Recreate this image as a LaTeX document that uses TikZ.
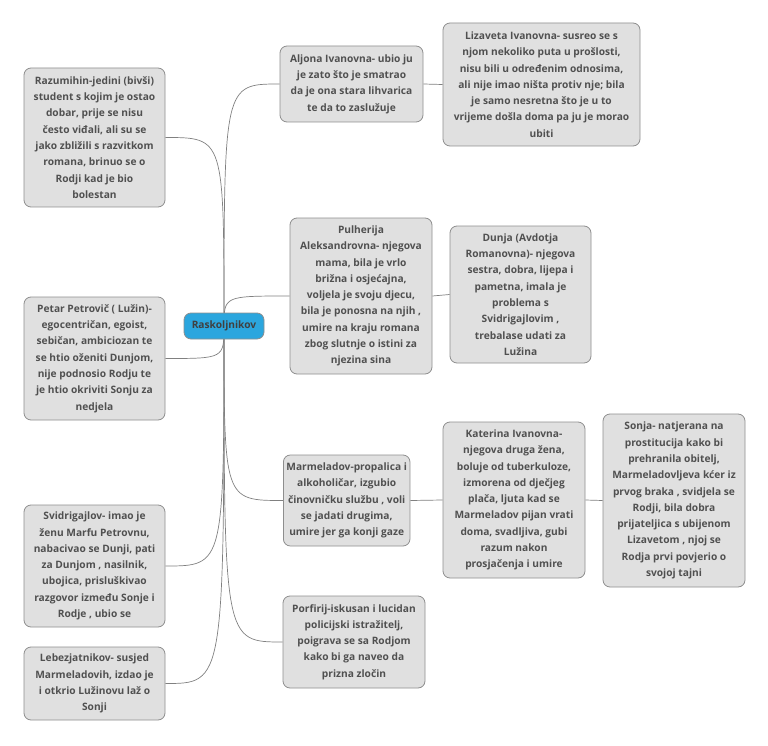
\documentclass[tikz,border=0pt]{standalone}
\usepackage{fontspec}
\setsansfont{Open Sans}
\usetikzlibrary{backgrounds}
\definecolor{cfill}{HTML}{E0E0E0}
\definecolor{cedge}{HTML}{8E8E8E}
\definecolor{ctext}{HTML}{505050}
\definecolor{cblue}{HTML}{2BA6DE}
\definecolor{cline}{HTML}{808080}
\tikzset{
  every picture/.style={font=\sffamily\bfseries},
  topic/.style={draw=cedge, fill=cfill, text=ctext, rounded corners=7pt, align=center,
    inner sep=3pt, line width=0.8pt, font=\sffamily\bfseries\fontsize{10.2}{16.3}\selectfont},
  root/.style={draw=cedge, fill=cblue, text=ctext!80!black, rounded corners=7pt,
    inner sep=3pt, line width=0.8pt, font=\sffamily\bfseries\fontsize{10.2}{13}\selectfont},
  link/.style={draw=cline, line width=0.7pt},
}

\begin{document}
\begin{tikzpicture}[x=1pt, y=-1pt]
  \useasboundingbox (0,0) rectangle (768,746);
  % central topic
  \node[root, minimum width=80pt, minimum height=26pt] (ras) at (224,326) {Raskoljnikov};
  % left branch
  \node[topic, minimum width=141pt, minimum height=139pt] (raz) at (94.5,137.5)
    {Razumihin-jedini (bivši)\\student s kojim je ostao\\dobar, prije se nisu\\često viđali, ali su se\\jako zbližili s razvitkom\\romana, brinuo se o\\Rodji kad je bio\\bolestan};
  \node[topic, minimum width=141pt, minimum height=123pt] (pet) at (94.5,358.5)
    {Petar Petrovič ( Lužin)-\\egocentričan, egoist,\\sebičan, ambiciozan te\\se htio oženiti Dunjom,\\nije podnosio Rodju te\\je htio okriviti Sonju za\\nedjela};
  \node[topic, minimum width=141pt, minimum height=122pt] (svi) at (94.5,566)
    {Svidrigajlov- imao je\\ženu Marfu Petrovnu,\\nabacivao se Dunji, pati\\za Dunjom , nasilnik,\\ubojica, prisluškivao\\razgovor između Sonje i\\Rodje , ubio se};
  \node[topic, minimum width=141pt, minimum height=73pt] (leb) at (94.5,683.5)
    {Lebezjatnikov- susjed\\Marmeladovih, izdao je\\i otkrio Lužinovu laž o\\Sonji};
  % right branch
  \node[topic, minimum width=143pt, minimum height=76pt] (alj) at (351.5,84)
    {Aljona Ivanovna- ubio ju\\je zato što je smatrao\\da je ona stara lihvarica\\te da to zaslužuje};
  \node[topic, minimum width=142pt, minimum height=156pt] (pul) at (361,296)
    {Pulherija\\Aleksandrovna- njegova\\mama, bila je vrlo\\brižna i osjećajna,\\voljela je svoju djecu,\\bila je ponosna na njih ,\\umire na kraju romana\\zbog slutnje o istini za\\njezina sina};
  \node[topic, minimum width=112pt, minimum height=91pt, anchor=west] (mar) at (283,500.5)
    {Marmeladov-propalica i\\alkoholičar, izgubio\\činovničku službu , voli\\se jadati drugima,\\umire jer ga konji gaze};
  \node[topic, minimum width=142pt, minimum height=92pt] (por) at (354,642)
    {Porfirij-iskusan i lucidan\\policijski istražitelj,\\poigrava se sa Rodjom\\kako bi ga naveo da\\prizna zločin};
  % sub topics
  \node[topic, minimum width=197pt, minimum height=123pt] (liz) at (541.5,84.5)
    {Lizaveta Ivanovna- susreo se s\\njom nekoliko puta u prošlosti,\\nisu bili u određenim odnosima,\\ali nije imao ništa protiv nje; bila\\je samo nesretna što je u to\\vrijeme došla doma pa ju je morao\\ubiti};
  \node[topic, minimum width=141pt, minimum height=137pt] (dun) at (520.5,294.5)
    {Dunja (Avdotja\\Romanovna)- njegova\\sestra, dobra, lijepa i\\pametna, imala je\\problema s\\Svidrigajlovim ,\\trebalase udati za\\Lužina};
  \node[topic, minimum width=142pt, minimum height=156pt] (kat) at (514,500)
    {Katerina Ivanovna-\\njegova druga žena,\\boluje od tuberkuloze,\\izmorena od dječjeg\\plača, ljuta kad se\\Marmeladov pijan vrati\\doma, svadljiva, gubi\\razum nakon\\prosjačenja i umire};
  \node[topic, minimum width=142pt, minimum height=173pt] (son) at (674,500.5)
    {Sonja- natjerana na\\prostitucija kako bi\\prehranila obitelj,\\Marmeladovljeva kćer iz\\prvog braka , svidjela se\\Rodji, bila dobra\\prijateljica s ubijenom\\Lizavetom , njoj se\\Rodja prvi povjerio o\\svojoj tajni};
  % connectors
  \begin{scope}[on background layer]
    \foreach \n in {raz, pet, svi, leb}
      \draw[link] (ras.center) .. controls (ras.center |- \n.east) .. (\n.east);
    \foreach \n in {alj, pul, mar, por}
      \draw[link] (ras.center) .. controls (ras.center |- \n.west) .. (\n.west);
    \foreach \a/\b in {alj/liz, pul/dun, mar/kat, kat/son}
      \draw[link] (\a.east) -- (\b.west);
  \end{scope}
\end{tikzpicture}
\end{document}
